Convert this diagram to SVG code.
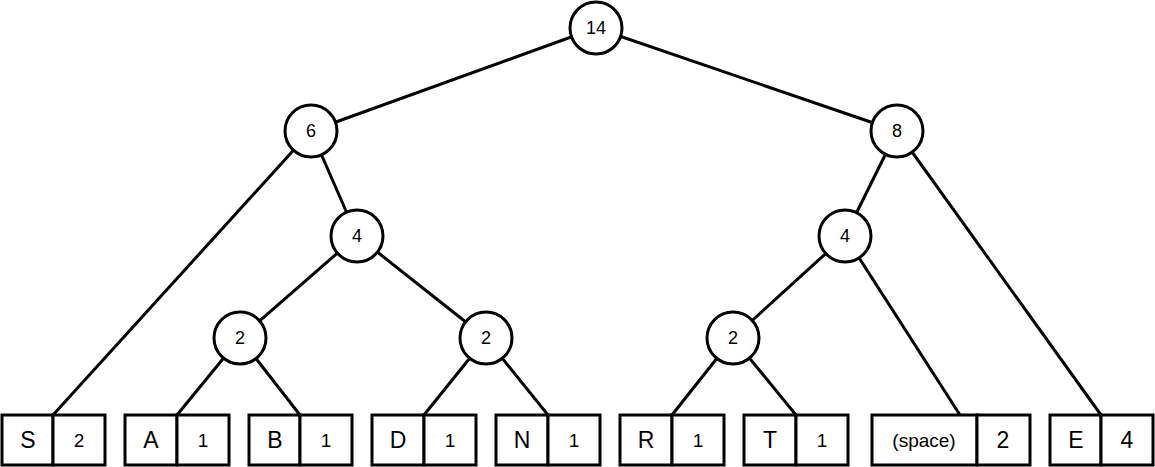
<svg xmlns="http://www.w3.org/2000/svg" width="1155" height="467" viewBox="0 0 1155 467">
<style>
line{stroke:#000;stroke-width:3}
circle,rect.b{fill:#fff;stroke:#000;stroke-width:3}
text{font-family:"Liberation Sans",Arial,sans-serif;text-anchor:middle;dominant-baseline:central;fill:#000}
.c{font-size:18px}.l{font-size:23px}.n{font-size:19px}
</style>
<rect width="1155" height="467" fill="#fff"/>
<g id="connectors">
<line x1="596" y1="28" x2="311" y2="131"/><line x1="596" y1="28" x2="897" y2="131"/>
<line x1="311" y1="131" x2="53" y2="415"/><line x1="311" y1="131" x2="357" y2="236"/>
<line x1="357" y1="236" x2="240" y2="338"/><line x1="357" y1="236" x2="486" y2="338"/>
<line x1="240" y1="338" x2="177" y2="415"/><line x1="240" y1="338" x2="300" y2="415"/>
<line x1="486" y1="338" x2="424" y2="415"/><line x1="486" y1="338" x2="548" y2="415"/>
<line x1="897" y1="131" x2="845" y2="236"/><line x1="897" y1="131" x2="1101" y2="415"/>
<line x1="845" y1="236" x2="733" y2="338"/><line x1="845" y1="236" x2="960" y2="415"/>
<line x1="733" y1="338" x2="672" y2="415"/><line x1="733" y1="338" x2="796" y2="415"/>
</g>
<g id="n14"><circle cx="596" cy="28" r="26"/><text class="c" x="596" y="28">14</text></g>
<g id="n6"><circle cx="311" cy="131" r="26"/><text class="c" x="311" y="131">6</text></g>
<g id="n8"><circle cx="897" cy="131" r="26"/><text class="c" x="897" y="131">8</text></g>
<g id="n4a"><circle cx="357" cy="236" r="26"/><text class="c" x="357" y="236">4</text></g>
<g id="n4b"><circle cx="845" cy="236" r="26"/><text class="c" x="845" y="236">4</text></g>
<g id="n2a"><circle cx="240" cy="338" r="26"/><text class="c" x="240" y="338">2</text></g>
<g id="n2b"><circle cx="486" cy="338" r="26"/><text class="c" x="486" y="338">2</text></g>
<g id="n2c"><circle cx="733" cy="338" r="26"/><text class="c" x="733" y="338">2</text></g>
<g id="leafS"><rect class="b" x="2" y="415" width="51" height="50"/><rect class="b" x="53" y="415" width="52" height="50"/><text class="l" x="28" y="440">S</text><text class="n" x="79" y="440">2</text></g>
<g id="leafA"><rect class="b" x="125" y="415" width="52" height="50"/><rect class="b" x="177" y="415" width="52" height="50"/><text class="l" x="151" y="440">A</text><text class="n" x="203" y="440">1</text></g>
<g id="leafB"><rect class="b" x="249" y="415" width="51" height="50"/><rect class="b" x="300" y="415" width="52" height="50"/><text class="l" x="275" y="440">B</text><text class="n" x="326" y="440">1</text></g>
<g id="leafD"><rect class="b" x="372" y="415" width="52" height="50"/><rect class="b" x="424" y="415" width="52" height="50"/><text class="l" x="398" y="440">D</text><text class="n" x="450" y="440">1</text></g>
<g id="leafN"><rect class="b" x="496" y="415" width="52" height="50"/><rect class="b" x="548" y="415" width="52" height="50"/><text class="l" x="522" y="440">N</text><text class="n" x="574" y="440">1</text></g>
<g id="leafR"><rect class="b" x="620" y="415" width="52" height="50"/><rect class="b" x="672" y="415" width="52" height="50"/><text class="l" x="646" y="440">R</text><text class="n" x="698" y="440">1</text></g>
<g id="leafT"><rect class="b" x="744" y="415" width="52" height="50"/><rect class="b" x="796" y="415" width="52" height="50"/><text class="l" x="770" y="440">T</text><text class="n" x="822" y="440">1</text></g>
<g id="leafSpace"><rect class="b" x="872" y="415" width="105" height="50"/><rect class="b" x="977" y="415" width="53" height="50"/><text class="n" x="924" y="440">(space)</text><text class="l" x="1003" y="440">2</text></g>
<g id="leafE"><rect class="b" x="1050" y="415" width="51" height="50"/><rect class="b" x="1101" y="415" width="52" height="50"/><text class="l" x="1076" y="440">E</text><text class="l" x="1127" y="440">4</text></g>
</svg>
